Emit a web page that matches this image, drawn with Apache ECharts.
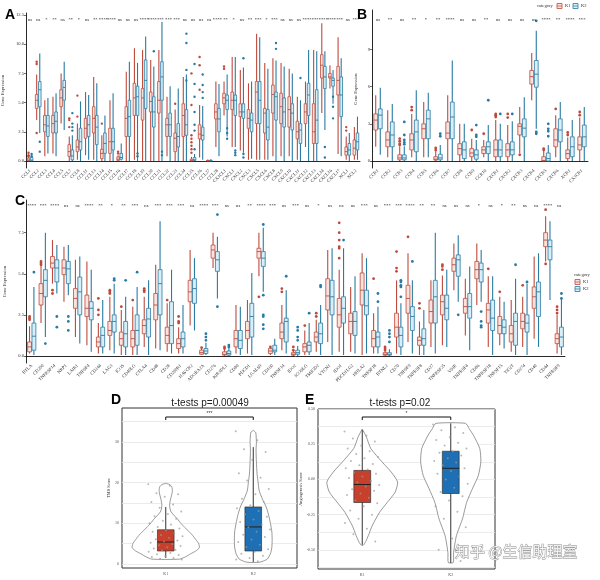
<!DOCTYPE html>
<html><head><meta charset="utf-8">
<script src="https://cdn.jsdelivr.net/npm/echarts@6/dist/echarts.min.js"></script>
<style>html,body{margin:0;padding:0;background:#fff}#c{width:600px;height:580px}</style>
</head><body><div id="c"></div>
<script>
// ---------------- Panel A: chemokines ----------------
const genesA = ['CCL1','CCL2','CCL3','CCL4','CCL5','CCL7','CCL8','CCL11','CCL13','CCL14','CCL15','CCL16','CCL17','CCL18','CCL19','CCL20','CCL21','CCL22','CCL23','CCL24','CCL25','CCL26','CCL27','CCL28','CX3CL1','CXCL1','CXCL2','CXCL3','CXCL5','CXCL6','CXCL8','CXCL9','CXCL10','CXCL11','CXCL12','CXCL13','CXCL14','CXCL16','CXCL17','XCL1','XCL2'];
// [min, q1, median, q3, max]
const k1A = [[0,0.02,0.08,0.25,0.5],[3.5,4.5,5.2,5.7,7.4],[0.4,2.5,3.1,3.9,5.2],[0.65,2.4,3.2,3.9,5.5],[3.2,4.65,5.4,6.1,7.5],[0,0.4,0.8,1.4,2.1],[0.1,0.8,1.2,1.8,3.2],[0.5,1.95,2.8,3.65,5.9],[0.1,2.4,3.65,4.65,7.2],[0,0.2,0.65,1.0,2.2],[0,0.65,1.65,2.8,5.2],[0,0.05,0.15,0.35,0.5],[0,2.1,3.65,4.65,7.65],[0.1,3.9,5.4,6.65,9.65],[0,3.5,5.4,6.2,9.5],[0,4.2,5.1,5.9,8.65],[0,4.1,5.2,6.8,9.5],[0.4,2.1,3.1,3.65,5.5],[0,0.8,1.95,2.4,4.4],[0,2.1,3.9,4.9,7.2],[0,0,0.05,0.15,0.35],[0.3,1.9,2.3,3.1,4.8],[0,0,0.02,0.05,0.12],[1.2,3.6,4.2,4.9,6.8],[3.9,4.9,5.4,5.8,6.8],[1.2,4.4,5.2,5.9,8.9],[0.9,3.8,4.2,4.9,7.8],[0.1,2.8,3.65,4.4,6.65],[0.1,3.2,5.9,6.8,10.9],[0.1,2.4,4.1,4.5,8.4],[0.4,4.1,5.7,6.5,8.8],[0.4,3.2,4.65,5.8,8.4],[0.4,2.9,4.4,5.5,7.9],[0.1,1.9,2.5,3.4,5.5],[1.2,3.2,4.2,4.9,6.8],[0,1.5,2.5,4.9,9.5],[4.1,7.1,8.2,9.1,11.8],[6.2,7.1,7.2,7.5,8.2],[0.6,5.65,6.9,8.1,10.6],[0.1,0.5,0.8,1.2,2.1],[0.1,0.5,1.1,1.8,2.9]];
const k2A = [[0,0.02,0.08,0.3,0.6],[2.4,4.65,6.1,6.8,9.2],[0.65,2.1,3.0,3.9,5.4],[0.4,2.4,3.4,4.2,5.8],[2.65,5.2,6.3,6.9,8.5],[0,0.1,0.43,0.95,2.2],[0,0.95,1.65,2.8,5.1],[0.1,2.1,3.1,3.9,5.65],[0,1.4,2.9,3.9,6.65],[0,0.65,1.5,2.4,3.9],[0,0.95,1.65,2.8,5.8],[0.05,0.15,0.3,0.65,1.5],[0,2.1,3.8,5.2,8.5],[0,3.9,5.5,6.4,8.4],[0,4.5,6.9,8.65,10.65],[0,2.9,4.2,5.5,8.1],[0,5.2,7.2,8.5,11.9],[0,2.1,3.1,4.1,6.4],[0,1.2,2.1,3.2,6.2],[0,2.2,3.1,4.4,7.4],[0,0.05,0.1,0.3,0.6],[0.1,1.8,2.2,2.9,4.7],[0,0,0.02,0.06,0.15],[0.4,2.5,3.6,4.5,6.6],[2.1,4.4,5.2,5.65,7.4],[1.2,3.9,5.2,5.65,8.9],[0.7,3.65,4.2,4.9,8.0],[0.2,2.5,3.5,4.1,6.8],[0.1,3.2,5.2,6.8,10.6],[0.1,1.8,2.9,4.4,7.9],[0,3.5,5.5,5.9,8.6],[0,2.9,4.2,5.4,8.1],[0,2.65,4.1,4.9,7.5],[0,1.5,2.65,3.2,5.2],[0,3.9,5.65,6.65,9.5],[0,1.5,3.5,6.1,9.4],[2.65,6.2,7.2,8.1,9.4],[4.9,6.4,6.9,7.1,7.8],[0.4,3.8,5.65,7.2,8.8],[0,0.5,0.95,1.5,2.4],[0.1,0.95,1.65,2.4,3.8]];
// outliers: [gene index, group (0 = K1, 1 = K2), value]
const outA = [[0,0,0.7],[0,0,0.5],[0,0,0.4],[0,1,0.6],[0,1,0.4],[1,0,8.5],[1,0,8.3],[1,0,2.4],[1,1,1.65],[1,1,0.8],[5,0,3.65],[5,0,3.5],[5,0,2.9],[5,1,4.1],[5,1,3.2],[5,1,2.9],[5,1,2.6],[6,0,5.6],[6,0,3.8],[9,0,3.2],[11,0,0.8],[11,0,0.65],[13,1,0.65],[13,1,0.4],[15,1,9.4],[16,1,0.8],[16,1,0.5],[18,0,4.9],[19,1,10.9],[19,1,10.1],[19,1,7.8],[19,1,6.9],[20,0,7.5],[20,0,4.8],[20,0,2.2],[20,0,1.9],[20,0,1.6],[20,0,1.3],[20,0,1.0],[20,0,0.7],[20,1,8.3],[20,1,6.6],[20,1,5.5],[20,1,4.2],[20,1,3.1],[20,1,2.6],[20,1,1.0],[21,0,8.9],[21,0,8.2],[21,0,6.1],[21,1,7.4],[21,1,6.5],[21,1,5.9],[21,1,5.4],[24,0,8.1],[24,0,7.9],[24,1,2.8],[24,1,2.4],[24,1,1.9],[25,1,0.9],[25,1,0.7],[25,1,0.5],[26,1,8.8],[26,1,0.6],[26,1,0.3],[30,1,10.1],[30,1,9.6],[33,1,7.1],[36,1,1.2],[36,1,0.3],[37,1,5.5],[37,1,4.65],[37,1,3.65],[39,0,2.9],[39,0,2.6]];
const sigA = ['ns','ns','*','**','ns','**','*','ns','**','****','****','ns','ns','ns','****','****','***','***','***','ns','ns','ns','ns','****','**','*','ns','**','***','*','***','ns','ns','ns','****','***','****','****','***','ns','***'];
const ticksA = [0, 2.5, 5, 7.5, 10, 12.5];

// ---------------- Panel B: chemokine receptors ----------------
const genesB = ['CCR1','CCR2','CCR3','CCR4','CCR5','CCR6','CCR7','CCR8','CCR9','CCR10','CXCR1','CXCR2','CXCR3','CXCR4','CXCR5','CXCR6','XCR1','CX3CR1'];
const k1B = [[1.15,2.5,3.3,3.8,5.3],[0.3,1.15,1.7,2.35,4.1],[0,0.1,0.25,0.5,1.2],[0.3,0.9,1.7,2.2,3.8],[0.3,1.8,2.6,3.0,4.75],[0,0.08,0.15,0.35,0.8],[0,1.8,2.25,3.15,5.3],[0,0.5,1.0,1.4,3.0],[0,0.35,0.65,1.0,1.8],[0.3,0.6,0.9,1.15,1.7],[0,0.35,0.9,1.7,3.3],[0,0.35,0.9,1.4,2.9],[0.6,2.1,2.8,3.0,4.35],[4.9,6.2,6.8,7.3,8.7],[0,0,0.05,0.35,0.8],[0.3,1.15,1.7,2.6,3.7],[0,0.2,0.6,0.9,1.9],[0,0.9,1.3,1.95,3.5]];
const k2B = [[0.5,2.6,3.7,4.2,5.9],[0,1.15,2.1,3.15,4.6],[0,0.1,0.25,0.5,1.2],[0,0.75,2.35,3.3,5.7],[0.3,1.8,3.4,4.1,5.5],[0,0.1,0.25,0.55,1.3],[0,1.8,3.55,4.75,8.1],[0,0.2,0.9,1.55,3.0],[0,0.15,0.5,0.9,1.7],[0,0.6,1.15,1.55,2.9],[0,0.35,0.9,1.7,3.0],[0,0.5,0.9,1.55,3.2],[0,1.95,2.65,3.4,5.15],[2.6,5.95,7.0,8.1,10.5],[0,0,0.2,0.65,1.3],[0,1.55,2.5,3.4,4.75],[0,0.35,1.15,1.95,3.3],[0,1.15,1.95,2.9,4.35]];
const outB = [[2,0,1.8],[2,0,1.6],[2,0,1.4],[2,0,1.3],[2,1,3.15],[2,1,2.1],[2,1,1.7],[2,1,1.5],[2,1,1.35],[3,0,4.35],[3,0,4.1],[5,0,1.05],[5,0,0.9],[5,1,2.2],[5,1,2.0],[8,0,2.5],[8,1,2.9],[8,1,2.1],[8,1,1.95],[9,0,2.2],[9,1,4.9],[10,0,3.8],[10,0,3.7],[10,0,3.55],[10,1,3.8],[11,0,3.8],[11,0,3.5],[11,1,3.8],[12,0,0.5],[13,1,11.3],[13,1,2.35],[13,1,2.2],[14,0,1.0],[14,0,0.9],[14,1,3.0],[14,1,2.6],[14,1,2.4],[14,1,2.0],[15,0,4.2],[16,0,2.3],[16,0,2.1],[17,0,3.95],[17,0,3.7]];
const sigB = ['ns','**','ns','**','*','**','****','ns','ns','**','ns','ns','ns','ns','****','**','****','***'];
const ticksB = [0, 3, 6, 9];

// ---------------- Panel C: immune checkpoints ----------------
const genesC = ['BTLA','CD200','TNFRSF14','NRP1','LAIR1','TNFSF4','CD244','LAG3','ICOS','CD40LG','CTLA4','CD48','CD28','CD200R1','HAVCR2','ADORA2A','CD276','KIR3DL1','CD80','PDCD1','LGALS9','CD160','TNFSF14','IDO2','ICOSLG','TMIGD2','VTCN1','IDO1','PDCD1LG2','HHLA2','TNFSF18','BTNL2','CD70','TNFSF9','TNFRSF8','CD27','TNFRSF25','VSIR','TNFRSF4','CD86','TNFRSF18','TNFSF15','TIGIT','CD274','CD40','CD44','TNFRSF9'];
const k1C = [[0.15,0.25,0.55,0.85,1.8],[2.0,3.1,3.8,4.4,5.5],[4.4,5.35,5.65,6.05,7.05],[3.3,4.95,5.35,5.85,6.65],[1.15,2.9,3.5,4.1,5.85],[0.65,2.4,2.9,3.7,5.75],[0.15,0.55,0.85,1.15,2.0],[0.35,1.25,1.55,2.1,3.6],[0.05,0.65,1.05,1.45,2.8],[0.05,0.55,1.05,1.55,3.0],[0.55,1.35,1.85,2.2,3.6],[0.45,2.2,3.1,3.8,5.55],[0.25,0.75,1.25,1.75,3.2],[0.15,0.45,0.75,1.05,1.75],[1.85,3.3,3.9,4.6,6.45],[0.05,0.1,0.2,0.35,0.45],[5.35,5.95,6.45,6.75,7.5],[0,0.05,0.1,0.25,0.4],[0.15,0.55,1.05,1.55,3.1],[0.15,1.05,1.55,2.1,3.4],[4.85,5.95,6.35,6.55,7.5],[0.05,0.15,0.3,0.45,0.5],[0.35,1.05,1.45,2.0,3.1],[0,0.05,0.1,0.2,0.3],[0.05,0.25,0.55,0.75,1.55],[0.25,0.85,1.15,1.45,2.2],[0.85,2.8,3.65,4.7,6.45],[0.25,1.75,2.5,3.5,5.25],[0.25,1.35,2.1,2.6,4.2],[0.05,3.1,4.0,5.05,6.25],[0.15,0.55,1.05,1.55,2.6],[0,0.05,0.1,0.2,0.3],[0.15,1.15,1.75,2.6,4.6],[0.85,2.6,3.5,4.3,6.25],[0.05,0.65,0.95,1.15,2.1],[0.55,2.0,2.7,3.4,4.6],[0.65,2.5,3.3,3.7,4.9],[4.0,5.15,5.55,5.95,6.85],[1.25,2.6,3.0,3.5,4.7],[3.1,4.7,5.25,5.75,6.85],[0.55,2.0,2.8,3.2,4.85],[0.65,1.35,1.85,2.4,3.6],[0.25,0.85,1.35,1.85,3.4],[0.55,1.65,2.1,2.6,3.6],[1.05,2.9,3.6,4.2,6.05],[5.75,6.65,7.05,7.5,8.5],[0.15,0.75,1.05,1.35,2.5]];
const k2C = [[0.05,0.35,1.2,2.0,4.2],[1.15,3.6,4.6,5.25,7.5],[3.8,4.5,5.35,5.85,6.75],[3.7,4.4,5.3,5.75,6.75],[0.75,2.5,3.9,4.8,6.05],[0.25,2.2,2.9,3.3,5.25],[0.15,0.55,1.25,1.75,3.4],[0.15,1.45,2.1,2.5,4.4],[0.05,0.55,1.35,2.1,3.6],[0.05,0.65,1.55,2.5,4.2],[0.05,1.15,2.25,2.9,4.6],[0.35,2.5,4.4,5.25,8.2],[0.15,0.75,1.85,3.3,5.25],[0.15,0.55,1.05,1.45,3.1],[1.55,3.2,4.1,4.7,5.95],[0.05,0.15,0.3,0.45,0.8],[3.5,5.15,5.85,6.35,7.25],[0,0.05,0.15,0.3,0.5],[0.05,0.45,0.95,1.55,3.0],[0.05,1.15,2.4,3.2,5.05],[3.9,5.45,5.95,6.35,7.8],[0.05,0.25,0.35,0.65,1.05],[0.15,0.85,2.1,2.3,4.0],[0,0.1,0.2,0.35,0.6],[0.05,0.25,0.65,0.85,2.0],[0.05,0.75,1.35,2.0,3.1],[0.05,2.5,3.6,4.6,6.55],[0.05,2.0,2.9,3.6,6.55],[0.15,1.25,2.1,2.7,4.85],[0.15,2.5,3.05,4.0,5.95],[0.15,0.55,1.15,1.45,3.0],[0,0.05,0.1,0.2,0.4],[0.05,0.55,1.25,1.75,3.2],[0.15,1.55,2.4,3.0,4.6],[0.05,0.65,1.05,1.65,2.8],[0.15,2.0,3.6,4.6,7.5],[0.55,2.2,2.9,3.7,5.25],[3.3,4.85,5.85,6.15,7.35],[0.35,2.3,3.0,3.8,5.45],[3.3,4.5,5.25,5.65,6.45],[0.05,1.55,2.3,3.4,4.85],[0.45,1.35,1.75,2.2,3.3],[0.05,0.65,2.1,2.6,4.7],[0.05,1.45,2.0,2.5,4.4],[0.55,2.4,3.9,4.5,6.25],[3.4,5.85,6.65,7.05,8.2],[0.05,0.55,1.15,1.75,3.5]];
const outC = [[0,0,2.4],[0,0,2.3],[0,0,2.2],[0,1,5.1],[1,0,5.75],[1,0,5.65],[1,0,5.55],[1,1,0.75],[2,0,4.0],[2,0,3.8],[2,1,2.4],[2,1,1.75],[3,1,2.4],[3,1,2.1],[3,1,1.55],[6,0,3.5],[6,0,2.8],[6,0,2.5],[7,0,4.0],[7,0,3.9],[7,0,3.8],[7,1,4.7],[7,1,4.6],[8,0,3.0],[8,1,4.6],[9,0,3.4],[9,1,5.1],[10,0,4.1],[10,0,4.0],[10,0,3.9],[12,0,3.4],[13,0,2.4],[13,0,2.1],[13,0,2.0],[15,0,0.5],[15,1,1.35],[15,1,1.15],[15,1,0.95],[16,1,8.6],[16,1,3.0],[17,0,0.55],[17,0,0.45],[17,1,0.65],[17,1,0.55],[20,0,3.6],[20,1,8.0],[20,1,3.7],[20,1,2.5],[20,1,2.4],[20,1,1.9],[20,1,1.65],[21,0,0.55],[22,0,4.1],[22,0,3.9],[22,1,4.85],[23,0,0.55],[23,0,0.35],[23,1,1.75],[23,1,1.55],[23,1,1.15],[23,1,0.95],[24,0,1.85],[24,1,2.6],[25,0,2.6],[25,0,2.4],[25,1,4.3],[25,1,4.2],[27,0,8.1],[27,0,7.5],[27,0,7.05],[27,0,6.65],[27,0,6.55],[27,0,5.95],[27,1,7.05],[30,0,4.7],[30,1,3.8],[30,1,3.3],[31,0,0.55],[31,0,0.45],[31,0,0.35],[31,1,1.55],[31,1,1.35],[31,1,1.15],[31,1,0.85],[32,0,6.35],[32,0,5.35],[32,0,5.15],[32,1,4.6],[32,1,4.5],[32,1,4.3],[32,1,4.2],[32,1,3.6],[33,0,7.25],[33,1,5.75],[34,0,3.2],[34,0,2.9],[36,0,5.55],[36,0,5.45],[36,0,5.25],[37,1,2.5],[39,1,2.7],[39,1,2.1],[39,1,1.85],[39,1,1.75],[40,0,5.3],[41,0,3.9],[42,1,5.55],[43,0,4.3],[43,1,4.5],[45,0,8.9],[45,0,5.6],[46,0,3.0],[46,0,2.8],[46,0,2.6],[46,1,3.8],[46,1,3.5]];
const sigC = ['****','***','****','ns','ns','****','**','*','**','***','ns','***','***','***','ns','****','***','ns','ns','**','****','***','ns','***','ns','*','ns','ns','ns','***','ns','***','***','****','**','**','ns','ns','ns','*','ns','*','**','ns','ns','****','ns'];
const ticksC = [0, 2.5, 5, 7.5];

// ---------------- Panel D ----------------
const groupsDE = ['K1','K2'];
const boxD = [[1.5,3.2,5.4,8.4,14.0],[0.5,3.2,9.1,14.0,28.7]];
// violin outline: [value, relative half-width]
const violinD_K1 = [[19.8,0],[19.5,0.11],[19,0.17],[18,0.19],[17,0.17],[16,0.14],[14.5,0.11],[13,0.14],[12,0.23],[11,0.34],[10,0.43],[9,0.54],[8,0.66],[7,0.77],[6,0.86],[5,0.94],[4,0.96],[3.2,0.86],[2.5,0.71],[1.8,0.57],[1.2,0.4]];
const violinD_K2 = [[32.8,0],[32.3,0.07],[30,0.09],[28,0.08],[25,0.09],[22,0.11],[20,0.14],[18,0.17],[16,0.26],[14,0.37],[12,0.44],[10,0.49],[8,0.53],[6,0.54],[4,0.53],[2.5,0.49],[1.2,0.4],[0.6,0.25],[0.4,0.15]];
const pointsD_K1 = [19.6,19.2,17.4,17.1,16.5,15.2,14.6,13.8,12.9,12.3,11.7,11.1,10.6,10.0,9.7,9.1,8.7,8.3,7.9,7.5,7.1,6.8,6.4,6.1,5.8,5.5,5.2,4.9,4.6,4.4,4.1,3.8,3.5,3.3,3.0,2.7,2.4,2.2,1.9,1.7,1.5,1.3,1.1];
const pointsD_K2 = [32.6,30.4,28.2,27.5,25.6,22.3,21.2,20.5,18.4,17.1,16.0,15.2,14.4,13.7,13.0,12.2,11.6,10.9,10.3,9.7,9.0,8.5,7.9,7.2,6.6,6.0,5.4,4.7,4.2,3.6,3.0,2.5,2.0,1.5,1.1,0.7];
const sigD = '***';
const ticksD = [0, 10, 20, 30];

// ---------------- Panel E ----------------
const boxE = [[-0.464,-0.164,-0.036,0.064,0.35],[-0.593,-0.1,0.079,0.2,0.398]];
const violinE_K1 = [[0.357,0],[0.33,0.06],[0.3,0.12],[0.22,0.24],[0.124,0.56],[0.052,0.82],[-0.019,1.0],[-0.09,0.93],[-0.162,0.71],[-0.233,0.49],[-0.329,0.28],[-0.4,0.17],[-0.44,0.1],[-0.467,0.03]];
const violinE_K2 = [[0.398,0.42],[0.36,0.52],[0.314,0.64],[0.219,0.82],[0.124,0.85],[0.029,0.78],[-0.067,0.61],[-0.162,0.45],[-0.281,0.33],[-0.4,0.16],[-0.519,0.08],[-0.59,0.07]];
const pointsE_K1 = [0.34,0.31,0.29,0.27,0.24,0.22,0.2,0.18,0.16,0.15,0.13,0.11,0.1,0.08,0.07,0.05,0.04,0.02,0.01,-0.01,-0.02,-0.04,-0.05,-0.07,-0.08,-0.1,-0.11,-0.13,-0.15,-0.17,-0.19,-0.22,-0.25,-0.28,-0.31,-0.35,-0.39,-0.44];
const pointsE_K2 = [0.39,0.37,0.35,0.33,0.3,0.28,0.26,0.24,0.22,0.2,0.19,0.17,0.15,0.13,0.12,0.1,0.08,0.06,0.04,0.02,0,-0.03,-0.06,-0.09,-0.12,-0.15,-0.19,-0.23,-0.28,-0.34,-0.42,-0.5,-0.58];
const sigE = '*';
const ticksE = [-0.5, -0.25, 0, 0.25, 0.5];

// ---------------- styling ----------------
const RED = '#bf4a3b', BLUE = '#2a7ba3', RED_F = '#f8e3de', BLUE_F = '#d9eef7';
const SERIF = 'Liberation Serif';

function boxSeries(grid, data, side, color, fill, wFrac) {
  return {
    type: 'custom', xAxisIndex: grid, yAxisIndex: grid,
    data: data.map((d, i) => [i].concat(d)),
    encode: {x: 0, y: [1, 2, 3, 4, 5]},
    renderItem: function (params, api) {
      const i = api.value(0);
      const band = api.size([1, 0])[0];
      const xc = api.coord([i, 0])[0] + side * band * 0.19;
      const hw = band * wFrac;
      const y = [1, 2, 3, 4, 5].map(k => api.coord([i, api.value(k)])[1]);
      return {type: 'group', children: [
        {type: 'line', shape: {x1: xc, y1: y[4], x2: xc, y2: y[3]}, style: {stroke: color, lineWidth: 1.1}},
        {type: 'line', shape: {x1: xc, y1: y[1], x2: xc, y2: y[0]}, style: {stroke: color, lineWidth: 1.1}},
        {type: 'rect', shape: {x: xc - hw, y: y[3], width: 2 * hw, height: Math.max(0.6, y[1] - y[3])}, style: {fill: fill, stroke: color, lineWidth: 0.8}},
        {type: 'line', shape: {x1: xc - hw, y1: y[2], x2: xc + hw, y2: y[2]}, style: {stroke: color, lineWidth: 0.9}}
      ]};
    }
  };
}
function outlierSeries(grid, outs, r) {
  return {
    type: 'custom', xAxisIndex: grid, yAxisIndex: grid,
    data: outs.map(o => [o[0], o[2], o[1]]),
    encode: {x: 0, y: 1},
    renderItem: function (params, api) {
      const i = api.value(0), g = api.value(2);
      const band = api.size([1, 0])[0];
      const p = api.coord([i, api.value(1)]);
      return {type: 'circle', shape: {cx: p[0] + (g ? 1 : -1) * band * 0.19, cy: p[1], r: r},
        style: {fill: g ? BLUE : RED}};
    }
  };
}
function sigSeries(grid, sigs, dy, fs) {
  return {
    type: 'custom', xAxisIndex: grid, yAxisIndex: grid,
    data: sigs.map((s, i) => [i, 0]),
    encode: {x: 0, y: 1},
    renderItem: function (params, api) {
      const i = api.value(0);
      const x = api.coord([i, 0])[0];
      return {type: 'text', x: x, y: params.coordSys.y + dy,
        style: {text: sigs[i], fill: '#222', fontSize: fs, fontFamily: SERIF, align: 'center', verticalAlign: 'middle'}};
    }
  };
}
function violinSeries(grid, cat, prof) {
  return {
    type: 'custom', xAxisIndex: grid, yAxisIndex: grid,
    data: [[cat, prof[0][0]]],
    encode: {x: 0, y: 1},
    z: 1,
    renderItem: function (params, api) {
      const band = api.size([1, 0])[0];
      const cx = api.coord([cat, 0])[0];
      const right = prof.map(p => [cx + p[1] * band * 0.4, api.coord([cat, p[0]])[1]]);
      const left = prof.slice().reverse().map(p => [cx - p[1] * band * 0.4, api.coord([cat, p[0]])[1]]);
      return {type: 'polygon', shape: {points: right.concat(left), smooth: 0.2}, style: {fill: '#fff', stroke: '#555', lineWidth: 0.6}};
    }
  };
}
function bigBoxSeries(grid, boxes, fills) {
  return {
    type: 'custom', xAxisIndex: grid, yAxisIndex: grid, z: 3,
    data: boxes.map((d, i) => [i].concat(d)),
    encode: {x: 0, y: [1, 2, 3, 4, 5]},
    renderItem: function (params, api) {
      const i = api.value(0);
      const band = api.size([1, 0])[0];
      const xc = api.coord([i, 0])[0];
      const hw = band * 0.095;
      const y = [1, 2, 3, 4, 5].map(k => api.coord([i, api.value(k)])[1]);
      return {type: 'group', children: [
        {type: 'line', shape: {x1: xc, y1: y[4], x2: xc, y2: y[0]}, style: {stroke: '#333', lineWidth: 1}},
        {type: 'rect', shape: {x: xc - hw, y: y[3], width: 2 * hw, height: y[1] - y[3]}, style: {fill: fills[i], stroke: '#333', lineWidth: 0.7}},
        {type: 'line', shape: {x1: xc - hw, y1: y[2], x2: xc + hw, y2: y[2]}, style: {stroke: '#222', lineWidth: 1}}
      ]};
    }
  };
}
function jitterSeries(grid, cat, pts) {
  return {
    type: 'custom', xAxisIndex: grid, yAxisIndex: grid, z: 4,
    data: pts.map((v, k) => [cat, v, k]),
    encode: {x: 0, y: 1},
    renderItem: function (params, api) {
      const band = api.size([1, 0])[0];
      const k = api.value(2);
      const off = (((k * 0.6180339) % 1) - 0.5) * 2 * 0.2 * band;
      const p = api.coord([cat, api.value(1)]);
      return {type: 'circle', shape: {cx: p[0] + off, cy: p[1], r: 1}, style: {fill: '#9a9a9a', opacity: 0.7}};
    }
  };
}
function bracketSeries(grid, label, dy) {
  return {
    type: 'custom', xAxisIndex: grid, yAxisIndex: grid, z: 5,
    data: [[0, 0]],
    encode: {x: 0, y: 1},
    renderItem: function (params, api) {
      const x1 = api.coord([0, 0])[0], x2 = api.coord([1, 0])[0];
      const y = params.coordSys.y + dy;
      return {type: 'group', children: [
        {type: 'polyline', shape: {points: [[x1, y + 3], [x1, y], [x2, y], [x2, y + 3]]}, style: {stroke: '#111', lineWidth: 1, fill: null}},
        {type: 'text', x: (x1 + x2) / 2, y: y - 3, style: {text: label, fontSize: 5, fill: '#333', align: 'center', verticalAlign: 'middle'}}
      ]};
    }
  };
}

function catAxis(grid, data) {
  return {type: 'category', gridIndex: grid, data: data,
    axisLine: {lineStyle: {color: '#111', width: 0.9}},
    axisTick: {alignWithLabel: true, length: 2, lineStyle: {color: '#111', width: 0.6}},
    axisLabel: {rotate: 45, fontSize: 4.6, margin: 2, interval: 0, color: '#333', fontFamily: SERIF},
    splitLine: {show: false}};
}
function valAxis(grid, min, max, ticks, fmt, name) {
  return {type: 'value', gridIndex: grid, min: min, max: max,
    axisLine: {show: true, lineStyle: {color: '#111', width: 0.9}},
    axisTick: {show: true, length: 2, customValues: ticks, lineStyle: {color: '#111', width: 0.6}},
    axisLabel: {customValues: ticks, fontSize: 4.6, margin: 2, color: '#333', fontFamily: SERIF, formatter: fmt},
    splitLine: {show: false},
    name: name, nameLocation: 'middle', nameGap: 14, nameRotate: 90,
    nameTextStyle: {fontSize: 4.6, fontFamily: SERIF, color: '#333'}};
}
function frameY(grid, min, max, labels, lines, fmt, name, gap) {
  return {type: 'value', gridIndex: grid, min: min, max: max,
    axisLine: {show: false},
    axisTick: {show: false, customValues: lines},
    axisLabel: {customValues: labels, fontSize: 4, margin: 3, color: '#555', fontFamily: SERIF, formatter: fmt},
    splitLine: {show: true, lineStyle: {color: '#e6e6e6', width: 0.8}},
    name: name, nameLocation: 'middle', nameGap: gap, nameRotate: 90,
    nameTextStyle: {fontSize: 4.2, fontFamily: SERIF, color: '#333'}};
}
function frameX(grid) {
  return {type: 'category', gridIndex: grid, data: groupsDE,
    axisLine: {show: false}, axisTick: {show: false},
    axisLabel: {fontSize: 4, margin: 4, color: '#555', fontFamily: SERIF},
    splitLine: {show: false}};
}

const gridBase = {containLabel: false, outerBoundsMode: 'none'};
const option = {
  animation: false,
  backgroundColor: '#fff',
  grid: [
    Object.assign({left: 26, top: 13, width: 334, height: 155}, gridBase),
    Object.assign({left: 372, top: 10, width: 216, height: 158}, gridBase),
    Object.assign({left: 26, top: 200, width: 539, height: 163}, gridBase),
    Object.assign({left: 122, top: 408, width: 175, height: 160, show: true, borderColor: '#333', borderWidth: 1}, gridBase),
    Object.assign({left: 318, top: 409, width: 177, height: 160, show: true, borderColor: '#333', borderWidth: 1}, gridBase)
  ],
  xAxis: [catAxis(0, genesA), catAxis(1, genesB), catAxis(2, genesC), frameX(3), frameX(4)],
  yAxis: [
    valAxis(0, -0.6, 12.67, ticksA, v => v.toFixed(1), 'Gene Expression'),
    valAxis(1, -0.56, 12.17, ticksB, v => String(v), 'Gene Expression'),
    valAxis(2, -0.43, 9.49, ticksC, v => v.toFixed(1), 'Gene Expression'),
    frameY(3, -0.98, 38.3, ticksD, [0,5,10,15,20,25,30,35], v => String(v), 'TMB Score', 10),
    frameY(4, -0.636, 0.5, ticksE, [-0.625,-0.5,-0.375,-0.25,-0.125,0,0.125,0.25,0.375,0.5], v => v.toFixed(2), 'Angiogenesis Score', 13)
  ],
  series: [
    boxSeries(0, k1A, -1, RED, RED_F, 0.16), boxSeries(0, k2A, 1, BLUE, BLUE_F, 0.16),
    outlierSeries(0, outA, 1.2), sigSeries(0, sigA, 7, 4.6),
    boxSeries(1, k1B, -1, RED, RED_F, 0.16), boxSeries(1, k2B, 1, BLUE, BLUE_F, 0.16),
    outlierSeries(1, outB, 1.4), sigSeries(1, sigB, 10, 4.6),
    boxSeries(2, k1C, -1, RED, RED_F, 0.17), boxSeries(2, k2C, 1, BLUE, BLUE_F, 0.17),
    outlierSeries(2, outC, 1.4), sigSeries(2, sigC, 6, 4.6),
    violinSeries(3, 0, violinD_K1), violinSeries(3, 1, violinD_K2),
    bigBoxSeries(3, boxD, ['#c8402b', '#1e6fb3']),
    jitterSeries(3, 0, pointsD_K1), jitterSeries(3, 1, pointsD_K2),
    bracketSeries(3, sigD, 9),
    violinSeries(4, 0, violinE_K1), violinSeries(4, 1, violinE_K2),
    bigBoxSeries(4, boxE, ['#c8402b', '#1e6fb3']),
    jitterSeries(4, 0, pointsE_K1), jitterSeries(4, 1, pointsE_K2),
    bracketSeries(4, sigE, 8)
  ],
  graphic: [
    {type: 'text', left: 5, top: 8, style: {text: 'A', fontSize: 14, fontWeight: 'bold', fontFamily: 'Liberation Sans', fill: '#000'}},
    {type: 'text', left: 357, top: 8, style: {text: 'B', fontSize: 14, fontWeight: 'bold', fontFamily: 'Liberation Sans', fill: '#000'}},
    {type: 'text', left: 15, top: 194, style: {text: 'C', fontSize: 14, fontWeight: 'bold', fontFamily: 'Liberation Sans', fill: '#000'}},
    {type: 'text', left: 111, top: 393, style: {text: 'D', fontSize: 14, fontWeight: 'bold', fontFamily: 'Liberation Sans', fill: '#000'}},
    {type: 'text', left: 305, top: 393, style: {text: 'E', fontSize: 14, fontWeight: 'bold', fontFamily: 'Liberation Sans', fill: '#000'}},
    {type: 'text', x: 210, y: 403, style: {text: 't-tests p=0.00049', fontSize: 10, fontFamily: 'Liberation Sans', fill: '#222', align: 'center', verticalAlign: 'middle'}},
    {type: 'text', x: 400, y: 403, style: {text: 't-tests p=0.02', fontSize: 10, fontFamily: 'Liberation Sans', fill: '#222', align: 'center', verticalAlign: 'middle'}},
    // legend B
    {type: 'text', x: 537, y: 6, style: {text: 'category', fontSize: 4.6, fontFamily: SERIF, fill: '#333', verticalAlign: 'middle'}},
    {type: 'rect', shape: {x: 557, y: 3.5, width: 5, height: 5}, style: {fill: RED_F, stroke: RED, lineWidth: 0.8}},
    {type: 'line', shape: {x1: 557, y1: 6, x2: 562, y2: 6}, style: {stroke: RED, lineWidth: 0.7}},
    {type: 'text', x: 565, y: 6, style: {text: 'K1', fontSize: 4.6, fontFamily: SERIF, fill: '#333', verticalAlign: 'middle'}},
    {type: 'rect', shape: {x: 573, y: 3.5, width: 5, height: 5}, style: {fill: BLUE_F, stroke: BLUE, lineWidth: 0.8}},
    {type: 'line', shape: {x1: 573, y1: 6, x2: 578, y2: 6}, style: {stroke: BLUE, lineWidth: 0.7}},
    {type: 'text', x: 581, y: 6, style: {text: 'K2', fontSize: 4.6, fontFamily: SERIF, fill: '#333', verticalAlign: 'middle'}},
    // legend C
    {type: 'text', x: 574, y: 275, style: {text: 'category', fontSize: 4.6, fontFamily: SERIF, fill: '#333', verticalAlign: 'middle'}},
    {type: 'rect', shape: {x: 575, y: 279.5, width: 5, height: 5}, style: {fill: RED_F, stroke: RED, lineWidth: 0.8}},
    {type: 'line', shape: {x1: 575, y1: 282, x2: 580, y2: 282}, style: {stroke: RED, lineWidth: 0.7}},
    {type: 'text', x: 583, y: 282, style: {text: 'K1', fontSize: 4.6, fontFamily: SERIF, fill: '#333', verticalAlign: 'middle'}},
    {type: 'rect', shape: {x: 575, y: 286.5, width: 5, height: 5}, style: {fill: BLUE_F, stroke: BLUE, lineWidth: 0.8}},
    {type: 'line', shape: {x1: 575, y1: 289, x2: 580, y2: 289}, style: {stroke: BLUE, lineWidth: 0.7}},
    {type: 'text', x: 583, y: 289, style: {text: 'K2', fontSize: 4.6, fontFamily: SERIF, fill: '#333', verticalAlign: 'middle'}},
    // watermark
    {type: 'text', x: 455, y: 551, z: 100, style: {text: '知乎 @生信助理室', fontSize: 15, fontFamily: 'Noto Sans CJK SC', fill: 'rgba(255,255,255,0.85)', stroke: '#888', lineWidth: 0.8, verticalAlign: 'middle'}}
  ]
};
const chart = echarts.init(document.getElementById('c'), null, {renderer: 'canvas'});
chart.setOption(option);
</script>
</body></html>
